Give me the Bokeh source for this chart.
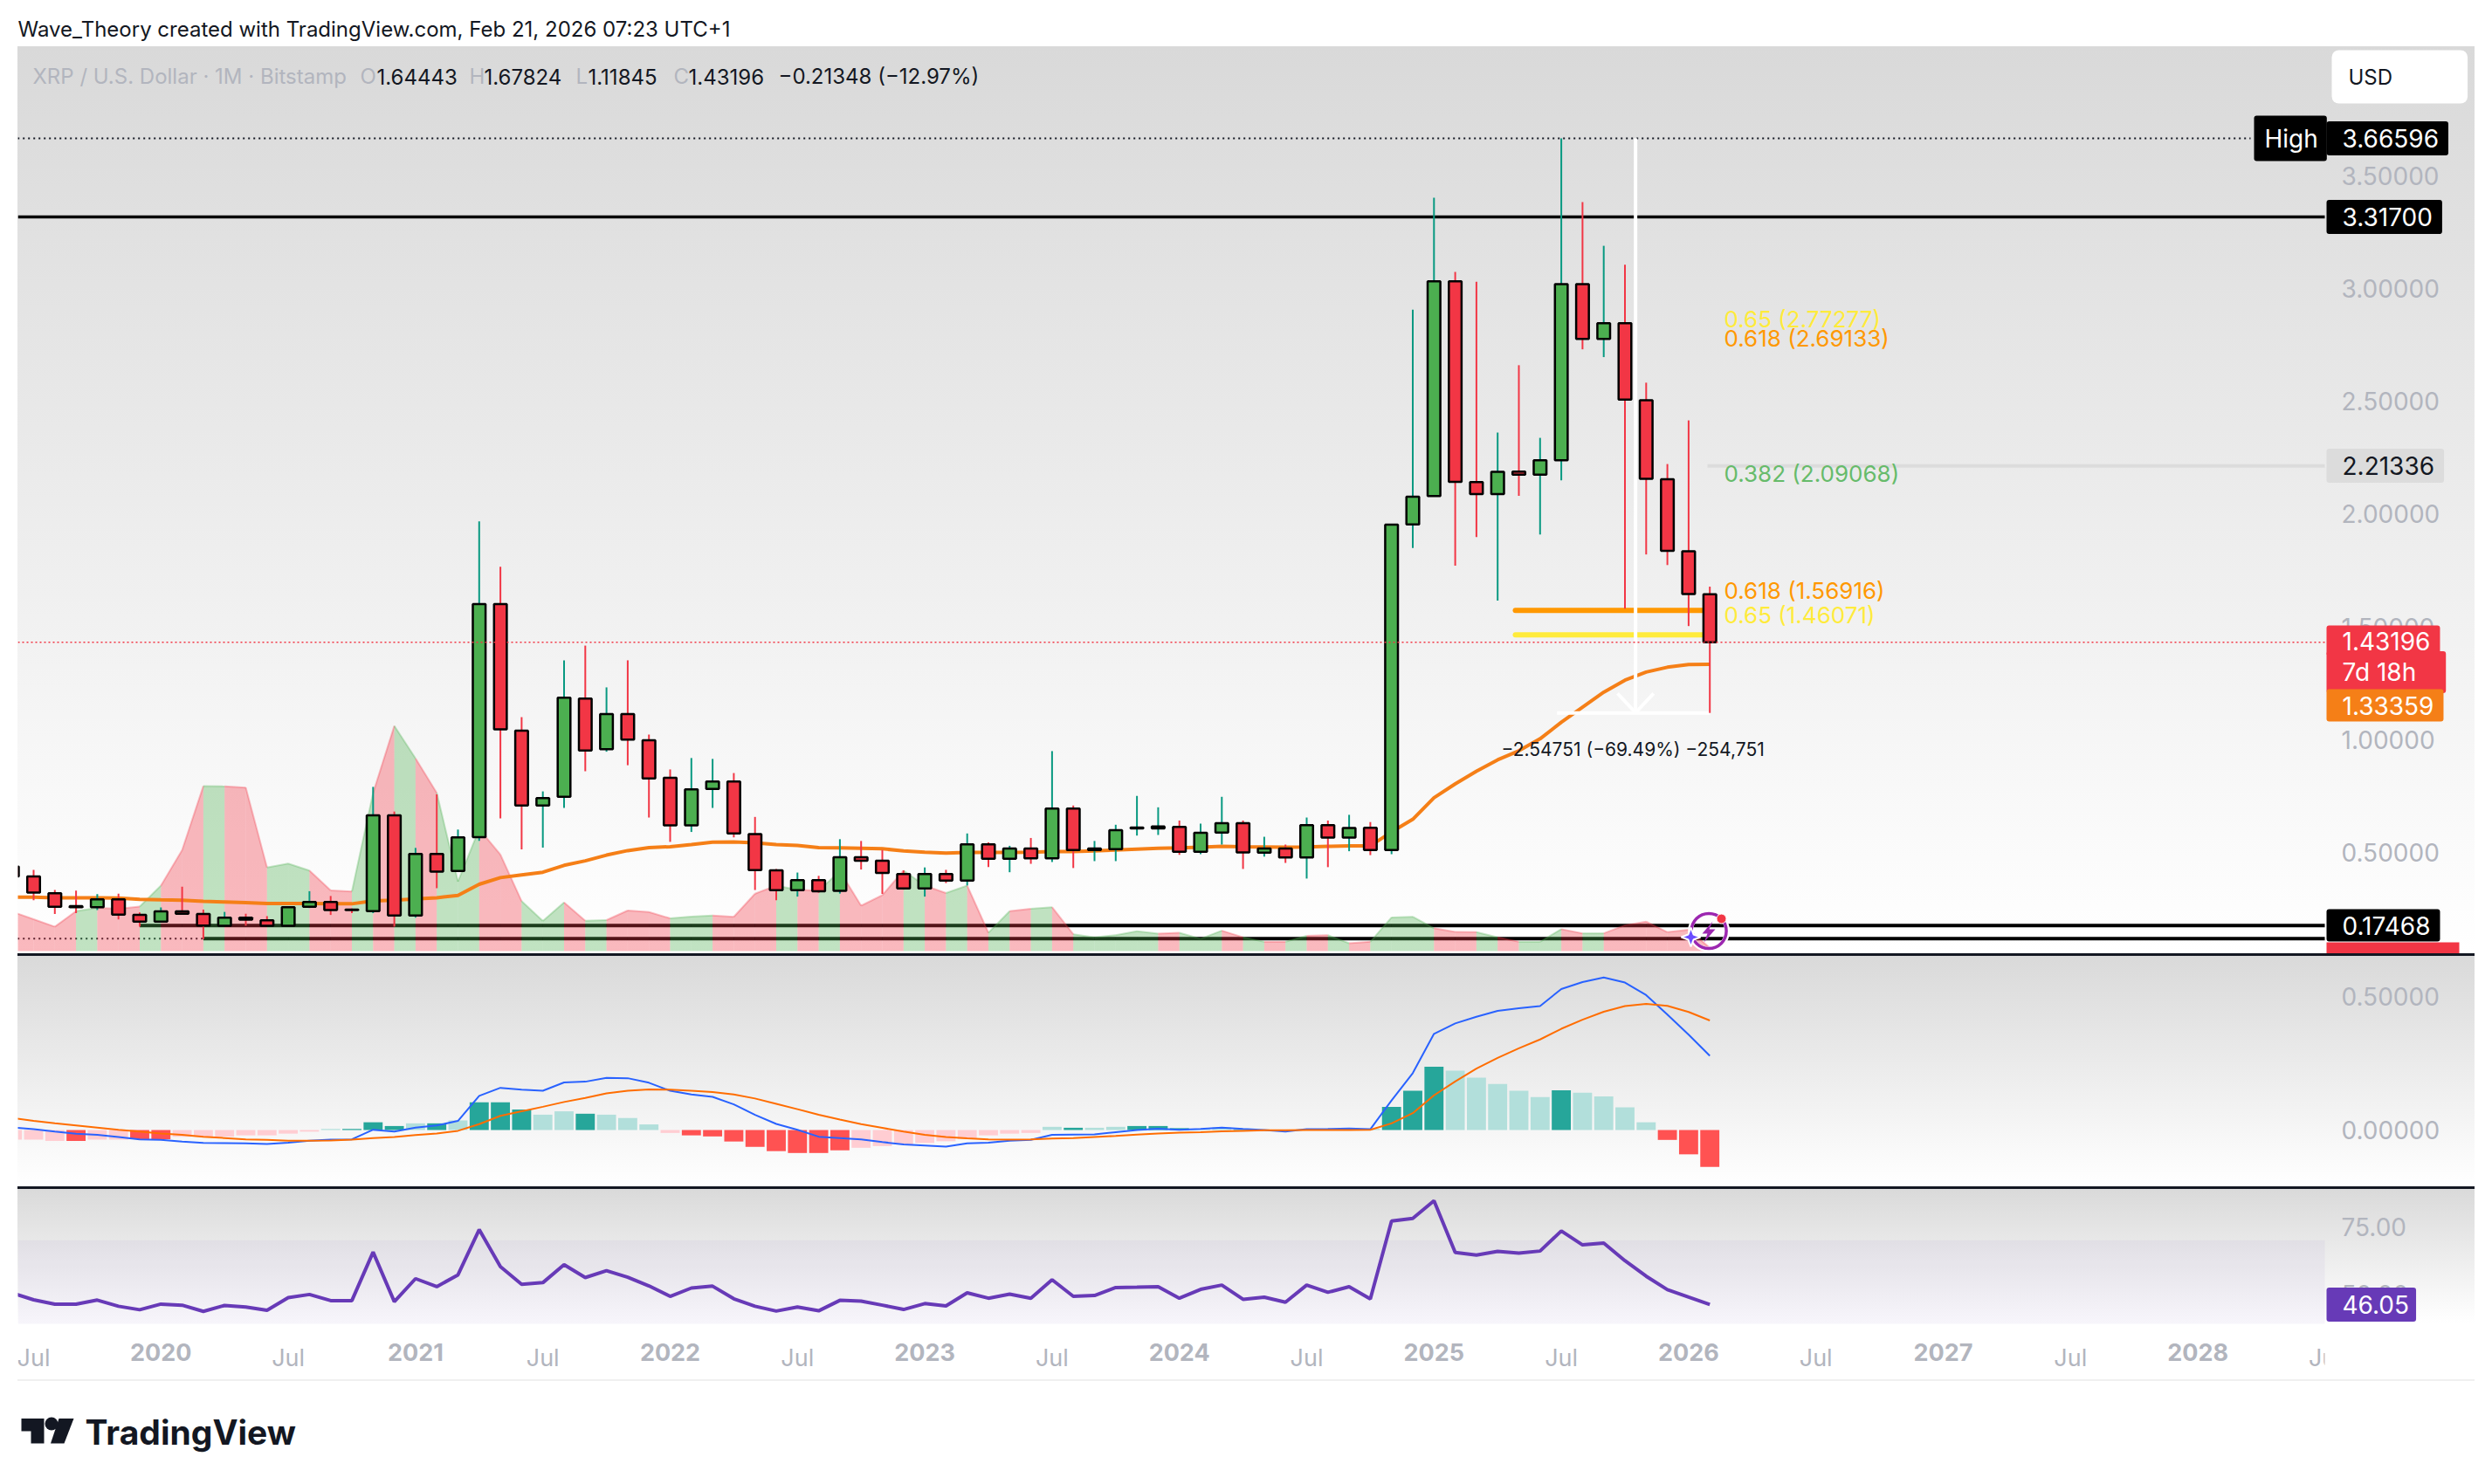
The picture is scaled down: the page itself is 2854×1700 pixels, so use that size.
from bokeh.embed import file_html
from bokeh.resources import INLINE
from bokeh.plotting import figure
from bokeh.layouts import column
from bokeh.core.properties import value
from bokeh.models import (Range1d, LinearAxis, FixedTicker, Label, ColumnDataSource)

# ---------- data (monthly, Jun 2019 .. Feb 2026) ----------
opens = [0.4375,0.3935,0.3189,0.2616,0.2576,0.2922,0.2229,0.1936,0.2389,0.2269,0.1750,0.2109,0.1990,0.1750,0.2589,0.2802,0.2469,
 0.2402,0.6640,0.2203,0.4934,0.4175,0.5681,1.6008,1.0398,0.7080,0.7466,1.1824,0.9572,1.1131,0.9972,0.8306,0.6200,0.7813,0.8146,0.5814,0.4202,
 0.3322,0.3775,0.3296,0.4788,0.4628,0.4042,0.3402,0.4042,0.3749,0.5361,0.4721,0.5174,0.4735,0.6947,0.5108,0.5148,0.6067,0.6067,0.6134,0.5028,
 0.5881,0.6294,0.4988,0.5174,0.4774,0.6214,0.5654,0.6094,0.5108,1.9537,2.0795,3.0318,2.1416,2.0891,2.1886,2.1748,2.2384,3.0193,2.7761,2.8466,
 2.5051,2.1541,1.8348,1.64443]
closes = [0.3935,0.3215,0.2589,0.2576,0.2922,0.2243,0.1936,0.2389,0.2283,0.1763,0.2109,0.2016,0.1750,0.2576,0.2802,0.2443,0.2443,
 0.6640,0.2203,0.4934,0.4148,0.5667,1.6008,1.0452,0.7080,0.7413,1.1864,0.9519,1.1131,0.9998,0.8279,0.6200,0.7800,0.8146,0.5841,0.4215,0.3322,
 0.3775,0.3282,0.4788,0.4628,0.4095,0.3402,0.4042,0.3749,0.5361,0.4721,0.5174,0.4735,0.6947,0.5108,0.5174,0.5987,0.6107,0.6147,0.5028,0.5867,
 0.6294,0.5001,0.5174,0.4774,0.6214,0.5654,0.6081,0.5108,1.9527,2.0767,3.0318,2.1430,2.0891,2.1872,2.1748,2.2384,3.0193,2.7761,2.8466,2.5079,
 2.1568,1.8375,1.6455,1.43196]
highs = [0.4500,0.4228,0.3335,0.3309,0.3149,0.3176,0.2336,0.2562,0.3482,0.2469,0.2363,0.2283,0.2176,0.2576,0.3282,0.3069,0.2509,
 0.7906,0.6813,0.5201,0.7573,0.6014,1.9673,1.7661,1.0998,0.7706,1.3517,1.4169,1.2317,1.3517,1.0225,0.8679,0.9186,0.9146,0.8519,0.6574,0.4268,
 0.4108,0.3962,0.5587,0.5508,0.5108,0.4202,0.4335,0.4228,0.5841,0.5441,0.5294,0.5641,0.9492,0.7080,0.5508,0.6227,0.7506,0.7000,0.6414,0.6280,
 0.7466,0.6414,0.5694,0.5348,0.6547,0.6414,0.6667,0.6347,1.9567,2.9060,3.4022,3.0732,3.0304,2.3614,2.6600,2.3379,3.66596,3.3828,3.1893,3.1050,
 2.5825,2.2218,2.4153,1.67824]
lows = [0.3900,0.2882,0.2269,0.2309,0.2443,0.2029,0.1710,0.1883,0.2283,0.1163,0.1750,0.1750,0.1750,0.1750,0.2536,0.2229,0.2309,
 0.2309,0.1710,0.2109,0.3415,0.4175,0.5508,0.6507,0.5134,0.5214,0.6973,0.8599,0.9465,0.8866,0.6547,0.5468,0.5907,0.6973,0.5667,0.3335,0.2882,
 0.3042,0.3215,0.3175,0.4242,0.3162,0.3349,0.3042,0.3642,0.3535,0.4348,0.4122,0.4495,0.4575,0.4308,0.4615,0.4615,0.5747,0.5774,0.4894,0.4921,
 0.5348,0.4268,0.4814,0.4535,0.3842,0.4348,0.5054,0.4881,0.4921,1.8500,2.0795,1.7712,1.8984,1.6164,2.0808,1.9094,2.1499,2.7304,2.6959,1.5810,
 1.8210,1.7740,1.5035,1.11845]
ma50 = [0.3015,0.3015,0.2989,0.2989,0.2989,0.2976,0.2922,0.2896,0.2882,0.2829,0.2802,0.2776,0.2736,0.2736,0.2736,0.2722,0.2722,
 0.2856,0.2882,0.2935,0.2989,0.3096,0.3588,0.3882,0.4002,0.4122,0.4428,0.4628,0.4881,0.5081,0.5214,0.5254,0.5348,0.5454,0.5468,0.5428,0.5348,
 0.5308,0.5214,0.5201,0.5188,0.5161,0.5068,0.5014,0.4974,0.5001,0.5001,0.5001,0.5014,0.5041,0.5041,0.5068,0.5108,0.5148,0.5188,0.5201,0.5228,
 0.5268,0.5254,0.5241,0.5228,0.5241,0.5268,0.5294,0.5294,0.5907,0.6467,0.7426,0.8039,0.8599,0.9106,0.9505,1.0038,1.0771,1.1438,1.2104,1.2637,
 1.2997,1.3210,1.3330,1.33359]
volumes = [131,106,81,133,144,141,148,218,336,549,548,544,278,291,268,202,198,
 526,749,641,526,231,406,321,166,100,162,101,103,135,130,109,115,118,114,191,218,
 204,201,266,151,186,268,218,193,218,61,133,141,146,56,46,53,66,58,61,41,
 68,46,31,31,51,53,26,31,112,114,76,64,63,46,31,31,73,59,59,86,98,63,71,11]
vol_side = ("rrrgrrgrrgrrggrrg" "rgrggrrggrgrrrggrrrgrgrr"
            "r" "grgrgrgr" "ggggrggrgrgrgrggg" "rrgrggrgrrrrr")
macd_hist = [-.036,-.036,-.041,-.041,-.036,-.036,-.034,-.034,-.025,-.025,-.025,-.02,-.02,-.0135,-.006,.004,.004,
 .029,.015,.025,.025,.036,.104,.104,.077,.0575,.07,.061,.0575,.045,.021,-.011,-.02,-.024,-.043,-.063,-.079,
 -.086,-.086,-.076,-.0665,-.06,-.054,-.0485,-.042,-.034,-.02,-.0135,-.011,.012,.0085,.0085,.012,.015,.015,.007,.0045,
 .01,.003,.001,-.002,.002,.002,.008,.0045,.087,.147,.237,.222,.196,.172,.147,.123,.149,.14,.126,.085,
 .029,-.037,-.091,-.138]
hist_strong = ("llldlldd" "lllllllldd" "dldldddlldllll" "dddddddd" "ll" "llllllll" "dlldddlldllllll" "ddd" "lllll" "dllll" "ddd")
macd_line = [.010,.003,-.006,-.014,-.018,-.026,-.035,-.037,-.043,-.048,-.049,-.050,-.052,-.047,-.040,-.036,-.035,
 .001,-.006,.009,.017,.034,.128,.158,.151,.147,.178,.181,.195,.194,.177,.147,.133,.124,.096,.057,.023,
 .001,-.025,-.030,-.035,-.045,-.054,-.058,-.062,-.050,-.047,-.040,-.037,-.018,-.017,-.016,-.008,0,.005,.001,.004,
 .009,.004,0,-.006,.003,.004,.006,.003,.111,.213,.360,.399,.424,.446,.456,.464,.528,.554,.571,.552,
 .505,.432,.357,.278]
macd_signal = [.045,.034,.025,.017,.009,.001,-.006,-.013,-.018,-.025,-.030,-.035,-.037,-.040,-.040,-.039,-.036,
 -.030,-.026,-.019,-.013,-.003,.022,.053,.070,.087,.105,.120,.137,.147,.152,.151,.147,.142,.133,.118,.098,
 .078,.057,.039,.022,.008,-.006,-.018,-.026,-.031,-.035,-.036,-.035,-.032,-.030,-.026,-.022,-.017,-.013,-.010,-.008,
 -.005,-.003,-.001,-.001,0,0,0,.001,.025,.063,.130,.182,.230,.270,.306,.339,.379,.413,.443,.464,
 .472,.465,.442,.410]
rsi = [50.3,47.8,46.2,46.2,47.7,45.4,44.1,46.2,45.8,43.5,45.7,45.1,43.9,48.6,49.8,47.5,47.5,
 65.6,47.1,55.7,52.7,57.1,74.0,60.2,53.6,54.2,60.9,56.1,58.7,56.2,53.0,49.1,52.2,52.9,48.2,45.4,43.6,
 45.1,43.7,47.6,47.3,45.8,44.2,46.4,45.5,50.4,48.4,49.9,48.4,55.3,49.1,49.4,52.4,52.5,52.7,48.4,51.7,
 53.3,48.0,48.8,46.9,53.3,50.6,52.7,48.1,77.2,78.2,84.8,65.5,64.5,65.9,65.2,66.0,73.5,68.3,69.0,62.4,
 56.6,51.6,48.8,46.05]
year_labels = ["2020","2021","2022","2023","2024","2025","2026","2027","2028"]
jul_labels = ["Jul"]*10
price_ticks = [0.5,1.0,1.5,2.0,2.5,3.0,3.5]
fib_labels = ["0.65 (2.77277)","0.618 (2.69133)","0.382 (2.09068)","0.618 (1.56916)","0.65 (1.46071)"]
fib_colors = ["#ffeb3b","#ff9800","#66bb6a","#ff9800","#ffeb3b"]
fib_text_y = [2.8645,2.779,2.18,1.661,1.553]

FONT = "Inter"
GREY = "#b2b5be"
RED, GREEN, TEAL, ORANGE = "#f23645", "#4caf50", "#089981", "#f57f17"

# ---------- page geometry ----------
W = 2846
FL, FE, FR = 20, 2834, 2662        # frame left, frame right, price-scale edge
MT, MB, MCB, RB, AB = 53, 1092, 1359, 1516, 1580
idx = list(range(-1, 80))
def xval(px): return (px - 38) / 24.3
def pval(py): return 3 - (py - 330) / 258.4
xr = Range1d(xval(FL), xval(FE))
XE = xval(FR)

def bg(stop="100%", sep=False):
    layers = []
    if sep:
        layers.append("linear-gradient(#131722,#131722) 20px 0 / 2814px 3px no-repeat")
    layers.append(f"linear-gradient(#d9d9d9 0,#ffffff {stop}) 20px 0 / 2814px 100% no-repeat")
    return {"background": ",".join(layers)}

def pane(h, top, yr, styles):
    p = figure(width=W, height=h, frame_width=FE-FL, frame_height=h, x_range=xr, y_range=yr,
               output_backend="svg", toolbar_location=None, min_border_left=FL, min_border_right=W-FE,
               min_border_top=0, min_border_bottom=0, x_axis_type=None, y_axis_type=None, styles=styles)
    p.grid.visible = False
    p.outline_line_color = None
    p.background_fill_alpha = 0
    p.border_fill_alpha = 0
    p._top = top
    return p

def plain(h, top):
    p = figure(width=W, height=h, frame_width=FE-FL, frame_height=h, x_range=Range1d(FL, FE), y_range=Range1d(top+h, top),
               output_backend="svg", toolbar_location=None, min_border_left=FL, min_border_right=W-FE,
               min_border_top=0, min_border_bottom=0, x_axis_type=None, y_axis_type=None)
    p.grid.visible = False
    p.outline_line_color = None
    p.background_fill_alpha = 0
    p.border_fill_alpha = 0
    p._top = top
    return p

def right_axis(p, ticks, overrides):
    ax = LinearAxis(ticker=FixedTicker(ticks=ticks), major_label_overrides=overrides, fixed_location=XE,
                    major_label_text_font=FONT, major_label_text_font_size="28px",
                    major_label_text_color=GREY, major_tick_line_color=None, minor_tick_line_color=None,
                    axis_line_color=None, major_label_standoff=13)
    p.add_layout(ax, "right")

def txt(p, x, y, s, color, size=28, weight="normal"):
    p.add_layout(Label(x=x, y=y-p._top, x_units="canvas", y_units="canvas", text=s, text_color=color,
                       text_font=FONT, text_font_size=f"{size}px", text_font_style=weight,
                       text_align="left", text_baseline="middle"))

def tag(p, l, r, t, b, s, tx, tw, bgc, color="#ffffff", size=28, radius=3):
    """text s starts at tx and is about tw wide; its box spans l..r, t..b"""
    cy = (t + b) / 2
    th = size * 0.82
    pv = max(0, round((b - t - th) / 2))
    p.add_layout(Label(x=l, y=cy-p._top, x_units="canvas", y_units="canvas", text=s, text_color=color,
                       text_font=FONT, text_font_size=f"{size}px", text_align="left", text_baseline="middle",
                       background_fill_color=bgc, border_radius=radius,
                       padding=(round(tx-l), round(r-tx-tw), pv, pv)))

# ---------- header ----------
head = plain(MT, 0)
txt(head, 20, 33, "Wave_Theory created with TradingView.com, Feb 21, 2026 07:23 UTC+1", "#131722", 24)

# ---------- main pane ----------
main = pane(MB-MT, MT, Range1d(pval(MB), pval(MT)), bg())
main.extra_y_ranges = {"vol": Range1d(-8.7, 3008)}

main.segment(x0=[xval(FL)], y0=[3.317], x1=[XE], y1=[3.317], line_color="#000000", line_width=3.5)
main.segment(x0=[5, 8], y0=[0.1763, 0.1176], x1=[XE, XE], y1=[0.1763, 0.1176], line_color="#000000", line_width=4)
main.segment(x0=[-1, -1], y0=[3.66596, 0.1176], x1=[xval(2577), 8], y1=[3.66596, 0.1176],
             line_color="#131722", line_width=2, line_dash="2 4")
main.segment(x0=[xval(1955)], y0=[2.21336], x1=[XE], y1=[2.21336], line_color="#dcdcdc", line_width=4)

colmap = {"r": RED, "g": GREEN}
xs, ys, vc, x0, x1, y0, y1 = [], [], [], [], [], [], []
for i in range(len(idx)-1):
    xs.append([idx[i], idx[i+1], idx[i+1], idx[i]])
    ys.append([0, 0, volumes[i+1], volumes[i]])
    c = colmap[vol_side[i]]
    vc.append(c)
    x0.append(idx[i]); x1.append(idx[i+1]); y0.append(volumes[i]); y1.append(volumes[i+1])
main.patches(xs, ys, fill_color=vc, fill_alpha=0.35, line_alpha=0, y_range_name="vol")
main.segment(x0, y0, x1, y1, line_color=vc, line_alpha=0.3, line_width=2, y_range_name="vol")

main.line(idx, ma50, line_color=ORANGE, line_width=4)

main.segment(x0=[xval(1735)]*2, y0=[1.5729, 1.465], x1=[79]*2, y1=[1.5729, 1.465],
             line_color=["#ff9800", "#ffeb3b"], line_width=6, line_cap="round")
# measurement tool
main.segment(x0=[75.5, 71.8], y0=[3.66596, 1.11845], x1=[75.5, 79], y1=[1.11845, 1.11845], line_color="#ffffff", line_width=4)
main.line([74.65, 75.5, 76.35], [1.205, 1.12, 1.205], line_color="#ffffff", line_width=4)

up = [c >= o for o, c in zip(opens, closes)]
cs = ColumnDataSource(dict(x=idx, top=[max(o, c) for o, c in zip(opens, closes)], bottom=[min(o, c) for o, c in zip(opens, closes)],
                           high=highs, low=lows, fill=[GREEN if u else RED for u in up], wick=[TEAL if u else RED for u in up]))
main.segment("x", "high", "x", "low", source=cs, line_color="wick", line_width=2)
main.vbar(x="x", top="top", bottom="bottom", width=0.6, source=cs, fill_color="fill", line_color="#000000", line_width=2.5)

main.text(x=[xval(1974)]*5, y=fib_text_y, text=fib_labels, text_color=fib_colors, text_font=value(FONT),
          text_font_size="26px", text_baseline="middle")
main.text(x=[xval(1719)], y=[0.957], text=["−2.54751 (−69.49%) −254,751"], text_font=value(FONT), text_font_size="21px",
          text_color="#131722", text_baseline="middle")

# assistant badge
bx, by = xval(1956.6), pval(1066)
main.scatter([bx], [by], marker="circle", size=42, fill_alpha=0, line_color="#ffffff", line_width=6)
main.scatter([bx], [by], marker="circle", size=40, fill_alpha=0, line_color="#9c27b0", line_width=3.5)
main.patch([xval(v) for v in (1961, 1949, 1955, 1951, 1964, 1957)], [pval(v) for v in (1055, 1069, 1069, 1079, 1064, 1064)],
           fill_color="#9c27b0", line_alpha=0)
main.patch([xval(v) for v in (1936, 1939, 1947, 1939, 1936, 1933, 1925, 1933)],
           [pval(v) for v in (1062, 1070, 1073, 1076, 1084, 1076, 1073, 1070)],
           fill_color="#6a4cff", line_color="#ffffff", line_width=2)
main.scatter([xval(1971)], [pval(1052)], marker="circle", size=11, fill_color=RED, line_color="#ffffff", line_width=1)

main.segment(x0=[xval(FL)], y0=[closes[-1]], x1=[XE], y1=[closes[-1]], line_color=RED, line_width=1.5, line_dash="2 3")
right_axis(main, price_ticks, {t: f"{t:.5f}" for t in price_ticks})

# legend
txt(main, 37, 87, "XRP / U.S. Dollar · 1M · Bitstamp", GREY, 24)
for x, s in [(412, "O"), (537, "H"), (659, "L"), (771, "C")]:
    txt(main, x, 87, s, GREY, 24)
for x, s in [(431, "1.64443"), (554, "1.67824"), (673, "1.11845"), (788, "1.43196"), (891, "−0.21348 (−12.97%)")]:
    txt(main, x, 87, s, "#131722", 24)
# USD button
tag(main, 2670, 2826, 62, 113, "USD", 2689, 51, "#ffffff", "#131722", 24, 8)
# volume tag peeking out at the pane bottom
main.quad(left=[xval(2664)], right=[xval(2816)], top=[pval(1079)], bottom=[pval(1092)], fill_color=RED, line_alpha=0)
# price tags
tag(main, 2581, 2661, 138, 178, "High", 2593, 58, "#000000")
tag(main, 2664, 2807, 138, 178, "3.66596", 2682, 114, "#000000")
tag(main, 2664, 2807, 228, 268, "3.31700", 2682, 114, "#000000")
tag(main, 2664, 2807, 513, 553, "2.21336", 2682, 114, "#dcdcdc", "#131722")
tag(main, 2664, 2807, 715, 752, "1.43196", 2682, 114, RED)
tag(main, 2664, 2807, 751, 788, "7d 18h", 2682, 91, RED)
tag(main, 2664, 2807, 788, 827, "1.33359", 2682, 114, ORANGE)
tag(main, 2664, 2807, 1040, 1079, "0.17468", 2682, 114, "#000000")

# ---------- MACD ----------
mp = pane(MCB-MB, MB, Range1d((1294-MCB)/306, (1294-MB)/306), bg(sep=True))
def hc(v, s):
    if v >= 0:
        return "#26a69a" if s == "d" else "#b2dfdb"
    return "#ff5252" if s == "d" else "#ffcdd2"
mp.vbar(x=idx, top=macd_hist, bottom=0, width=0.9, fill_color=[hc(v, s) for v, s in zip(macd_hist, hist_strong)], line_alpha=0)
mp.line(idx, macd_line, line_color="#2962ff", line_width=2)
mp.line(idx, macd_signal, line_color="#ff6d00", line_width=2)
right_axis(mp, [0.0, 0.5], {0.0: "0.00000", 0.5: "0.50000"})

# ---------- RSI ----------
def rval(py): return 75 - (py - 1405) / 3.07
rp = pane(AB-MCB, MCB, Range1d(rval(AB), rval(MCB)), bg("71%", sep=True))
rp.quad(left=[xval(FL)], right=[XE], top=[70], bottom=[rval(RB)], fill_color="#7e57c2", fill_alpha=0.06, line_alpha=0)
rp.line(idx, rsi, line_color="#673ab7", line_width=4)
right_axis(rp, [50, 75], {50: "50.00", 75: "75.00"})
tag(rp, 2664, 2771, 1474, 1514, "46.05", 2682, 81, "#673ab7")
# time axes
year_ticks = [6 + 12*i for i in range(9)]
jul_ticks = [12*i for i in range(10)]
for ticks, labels, style in [(year_ticks, year_labels, "bold"), (jul_ticks, jul_labels, "normal")]:
    ax = LinearAxis(ticker=FixedTicker(ticks=ticks), major_label_overrides=dict(zip(ticks, labels)),
                    major_label_text_font=FONT, major_label_text_font_size="27px", major_label_text_font_style=style,
                    major_label_text_color=GREY, major_tick_line_color=None, minor_tick_line_color=None,
                    axis_line_color=None, major_label_standoff=16, fixed_location=rval(RB))
    rp.add_layout(ax, "below")
# the price scale column hides the end of the last time label
rp.quad(left=[XE], right=[xval(FE)], top=[rval(1522)], bottom=[rval(1576)], fill_color="#ffffff", line_alpha=0, level="overlay")

# ---------- footer ----------
foot = plain(110, AB)
foot.styles = {"background": "linear-gradient(#f0f0f0,#f0f0f0) 20px 0 / 2814px 2px no-repeat"}
foot.patch([24, 50, 50, 35, 35, 24], [1624.5, 1624.5, 1653, 1653, 1639, 1639], fill_color="#131722", line_alpha=0)
foot.patch([67, 84, 73, 57.5], [1624.5, 1624.5, 1653, 1653], fill_color="#131722", line_alpha=0)
foot.scatter([58.5], [1630.5], marker="circle", size=15, fill_color="#131722", line_alpha=0)
txt(foot, 97, 1640, "TradingView", "#131722", 39, "bold")

page = column(head, main, mp, rp, foot, spacing=0)
open("out.html", "w").write(file_html(page, INLINE))
